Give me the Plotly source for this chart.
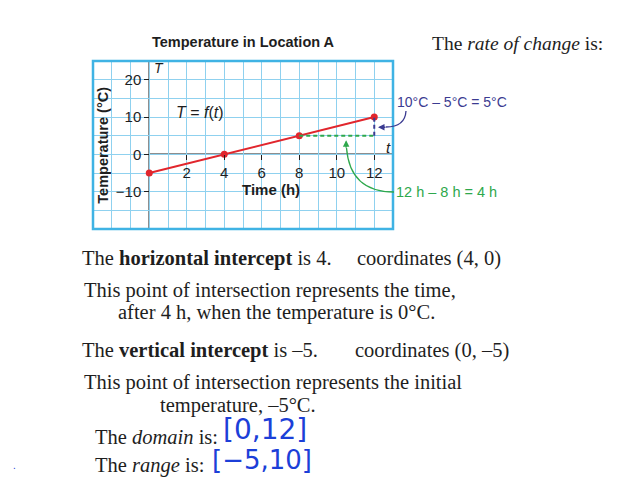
import plotly.graph_objects as go

# data
t_values = [0, 4, 8, 12]
temp_values = [-5, 0, 5, 10]
x_tickvals = [2, 4, 6, 8, 10, 12]
y_tickvals = [-10, 0, 10, 20]
y_ticktext = ['\u221210', '0', '10', '20']
x_range = [-3, 13]
y_range = [-20, 25]

W, H = 638, 493
OFF = 8                          # page body margin
L, R, T, B = 93, 393, 61, 229    # plot area in window pixels

GRID = '#8fd1ef'
FRAME = '#3fb3e4'
RED = '#e1262d'
GREEN = '#2ea84c'
NAVY = '#3b3b91'
INK = '#1e1e1e'
PEN = '#1c3fd8'
SERIF = 'Liberation Serif'
SANS = 'Liberation Sans'


def px(p):
    return (p - L) / (R - L)


def py(p):
    return (B - p) / (B - T)


fig = go.Figure()

fig.add_trace(go.Scatter(
    x=t_values, y=temp_values, mode='lines+markers',
    line={'color': RED, 'width': 2},
    marker={'color': RED, 'size': 7},
    cliponaxis=False, hoverinfo='skip'))

# rise and run between the last two points
fig.add_trace(go.Scatter(
    x=[t_values[2], t_values[3]], y=[temp_values[2], temp_values[2]],
    mode='lines', line={'color': GREEN, 'width': 2, 'dash': '4px,3px'},
    hoverinfo='skip'))
fig.add_trace(go.Scatter(
    x=[t_values[3], t_values[3]], y=[temp_values[2], temp_values[3]],
    mode='lines', line={'color': NAVY, 'width': 2, 'dash': '4px,3px'},
    hoverinfo='skip'))

shapes = [
    # axes
    {'type': 'line', 'xref': 'x', 'yref': 'y', 'x0': 0, 'x1': x_range[1],
     'y0': 0, 'y1': 0, 'line': {'color': INK, 'width': 1.5}, 'layer': 'below'},
    {'type': 'line', 'xref': 'x', 'yref': 'y', 'x0': 0, 'x1': 0,
     'y0': y_range[0], 'y1': y_range[1], 'line': {'color': INK, 'width': 1.5},
     'layer': 'below'},
    # blue frame
    {'type': 'rect', 'xref': 'x domain', 'yref': 'y domain', 'x0': 0, 'x1': 1,
     'y0': 0, 'y1': 1, 'line': {'color': FRAME, 'width': 2.5}},
    # curved leaders
    {'type': 'path', 'xref': 'paper', 'yref': 'paper',
     'path': f'M {px(406)},{py(111)} Q {px(405)},{py(127)} {px(386)},{py(127)}',
     'line': {'color': NAVY, 'width': 1.3}},
    {'type': 'path', 'xref': 'paper', 'yref': 'paper',
     'path': f'M {px(346.5)},{py(148)} Q {px(350)},{py(192)} {px(394)},{py(192)}',
     'line': {'color': GREEN, 'width': 1.3}},
]

ann = []


def label(x, y, text, size=13, color=INK, family=SANS, xref='x', yref='y',
          xanchor='center', angle=0):
    ann.append({'x': x, 'y': y, 'xref': xref, 'yref': yref, 'text': text,
                'showarrow': False, 'xanchor': xanchor, 'yanchor': 'middle',
                'textangle': angle,
                'font': {'family': family, 'size': size, 'color': color}})


# chart texts
label(px(243), py(42), '<b>Temperature in Location A</b>', size=14.5,
      xref='paper', yref='paper')
label(0.15, 23, '<i>T</i>', size=14, xanchor='left')
label(12.75, 1.9, '<i>t</i>', size=15)
label(2.7, 11.3, '<i>T</i> = <i>f</i>(<i>t</i>)', size=16)
label(6.5, -9.3, '<b>Time (h)</b>', size=15)
label(-2.45, 2.4, '<b>Temperature (\u00b0C)</b>', size=14.5, angle=-90)
label(px(395), py(102), '10\u00b0C \u2013 5\u00b0C = 5\u00b0C', size=14,
      color=NAVY, xref='paper', yref='paper', xanchor='left')
label(px(394), py(192), '12 h \u2013 8 h = 4 h', size=14.5,
      color=GREEN, xref='paper', yref='paper', xanchor='left')

# arrow heads
ann.append({'x': 12.2, 'y': 7.25, 'xref': 'x', 'yref': 'y', 'text': '',
            'showarrow': True, 'ax': 9, 'ay': 0, 'arrowhead': 2,
            'arrowsize': 1, 'arrowwidth': 1.3, 'arrowcolor': NAVY})
ann.append({'x': 10.5, 'y': 3.8, 'xref': 'x', 'yref': 'y', 'text': '',
            'showarrow': True, 'ax': 0, 'ay': 9, 'arrowhead': 2,
            'arrowsize': 1, 'arrowwidth': 1.3, 'arrowcolor': GREEN})

# page text
label(px(430), py(44), 'The <i>rate of change</i> is:', size=19.5, family=SERIF,
      xref='paper', yref='paper', xanchor='left')
body = [
    (80, 258, 'The <b>horizontal intercept</b> is 4.'),
    (355, 258, 'coordinates (4, 0)'),
    (82, 290, 'This point of intersection represents the time,'),
    (116, 312, 'after 4 h, when the temperature is 0\u00b0C.'),
    (80, 350, 'The <b>vertical intercept</b> is \u20135.'),
    (353, 350, 'coordinates (0, \u20135)'),
    (82, 382, 'This point of intersection represents the initial'),
    (158, 405, 'temperature, \u20135\u00b0C.'),
    (93, 437, 'The <i>domain</i> is:'),
    (93, 465, 'The <i>range</i> is:'),
]
for x0, y0, text in body:
    label(px(x0), py(y0), text, size=20.5, family=SERIF,
          xref='paper', yref='paper', xanchor='left')

# handwritten answers
label(px(221), py(430), '[0,12]', size=28, color=PEN, family='DejaVu Sans',
      xref='paper', yref='paper', xanchor='left')
label(px(210), py(460), '[\u22125,10]', size=26, color=PEN, family='DejaVu Sans',
      xref='paper', yref='paper', xanchor='left')
label(px(14), py(465), '.', size=10, color=PEN, xref='paper', yref='paper')

fig.update_layout(
    width=W - OFF, height=H - OFF,
    margin={'l': L - OFF, 'r': W - R, 't': T - OFF, 'b': H - B, 'pad': 0},
    paper_bgcolor='white', plot_bgcolor='white',
    showlegend=False,
    shapes=shapes, annotations=ann,
    xaxis={
        'range': x_range, 'tickvals': x_tickvals,
        'anchor': 'free', 'position': (0 - y_range[0]) / (y_range[1] - y_range[0]),
        'showgrid': True, 'gridcolor': GRID, 'gridwidth': 1,
        'minor': {'dtick': 1, 'tick0': 0, 'showgrid': True,
                  'gridcolor': GRID, 'gridwidth': 1},
        'ticks': 'outside', 'ticklen': 5, 'tickcolor': INK, 'tickwidth': 1.2,
        'tickfont': {'family': SANS, 'size': 15, 'color': INK},
        'showline': False, 'zeroline': False, 'fixedrange': True,
    },
    yaxis={
        'range': y_range, 'tickvals': y_tickvals, 'ticktext': y_ticktext,
        'anchor': 'free', 'position': (0 - x_range[0]) / (x_range[1] - x_range[0]),
        'showgrid': True, 'gridcolor': GRID, 'gridwidth': 1,
        'minor': {'dtick': 5, 'tick0': 0, 'showgrid': True,
                  'gridcolor': GRID, 'gridwidth': 1},
        'ticks': 'outside', 'ticklen': 5, 'tickcolor': INK, 'tickwidth': 1.2,
        'tickfont': {'family': SANS, 'size': 15, 'color': INK},
        'showline': False, 'zeroline': False, 'fixedrange': True,
    },
)

fig.write_html('out.html')
